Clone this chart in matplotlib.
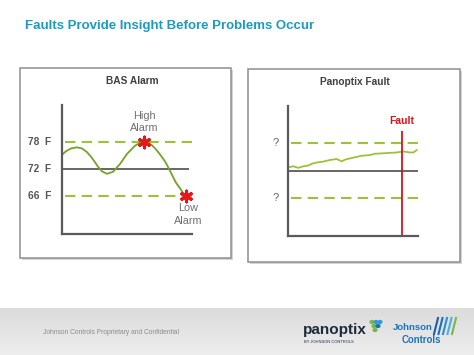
import numpy as np
import matplotlib.pyplot as plt
from matplotlib.patches import Rectangle

plt.rcParams['font.family'] = ['Liberation Sans', 'DejaVu Sans']

# Alarm levels (deg F)
levels = [78, 72, 66]
level_labels = ['78  F', '72  F', '66  F']

# BAS alarm trace (time, temp F)
bas_t = [0, 4, 9, 15, 20, 25, 29, 33, 36, 40, 45, 51, 58, 65, 73, 79, 82, 86, 90, 94, 98,
         102, 105, 108, 111, 114, 118, 121, 124]
bas_temp = [75.1, 75.9, 76.5, 76.75, 76.5, 75.7, 74.7, 73.5, 72.5, 71.5, 70.95, 71.4, 73.1,
            75.3, 77.1, 77.85, 78.0, 77.8, 77.2, 76.3, 75.2, 74.0, 72.9, 71.6, 70.3,
            69.0, 67.8, 66.8, 66.0]

# Panoptix trace
pan_t = [0.3, 5.3, 10.3, 15.3, 20, 25, 30, 35, 42, 48.7, 53.7, 57, 65, 73.7, 82, 87,
         98.7, 108.7, 115.3, 122, 125.3, 128.7]
pan_temp = [72.71, 72.92, 72.58, 72.92, 73.07, 73.56, 73.78, 73.93, 74.29, 74.51, 73.99,
            74.36, 74.79, 75.21, 75.36, 75.64, 75.79, 75.92, 76.14, 75.92, 75.92, 76.44]
fault_t = 114

W, H = 474, 355
fig = plt.figure(figsize=(W / 100, H / 100), dpi=100)
fig.patch.set_facecolor('white')


def fx(px):
    return px / W


def fy(py):
    return 1 - py / H


# title
fig.text(fx(25), fy(26), 'Faults Provide Insight Before Problems Occur', color='#1b9ac0',
         fontsize=9.5, fontweight='bold', va='center', ha='left')

# footer band with a soft gradient
bg = fig.add_axes([0, 0, 1, 1 - 308 / H], zorder=0)
grad = np.linspace(0.86, 0.93, 50).reshape(-1, 1)
bg.imshow(np.dstack([grad, grad, grad]), aspect='auto', extent=[0, 1, 0, 1])
bg.axis('off')
fig.text(fx(43), fy(332), 'Johnson Controls Proprietary and Confidential', color='#8a8a8a',
         fontsize=4.8, va='center')
fig.text(fx(303), fy(330), 'panoptix', color='#1e2b3c', fontsize=11, fontweight='bold',
         va='center')
fig.text(fx(304), fy(342), 'BY JOHNSON CONTROLS', color='#1e2b3c', fontsize=2.9, va='center')
for (dx, dy, c) in [(372, 322, '#7ab648'), (376, 322, '#2a9fd6'), (380, 322, '#2a9fd6'),
                    (374, 326, '#7ab648'), (378, 326, '#1b6fb5'), (375, 330, '#7ab648')]:
    fig.patches.append(plt.Circle((fx(dx), fy(dy)), 0.004, color=c,
                                  transform=fig.transFigure, figure=fig))
fig.text(fx(393), fy(327), 'Johnson', color='#1a72b8', fontsize=6.8, fontweight='bold',
         va='center')
fig.text(fx(402), fy(340), 'Controls', color='#1a72b8', fontsize=6.9, fontweight='bold',
         va='center')
for i, c in enumerate(['#1a5fa8', '#1a72b8', '#2a8fd0', '#4aaee0', '#7ab648']):
    fig.lines.append(plt.Line2D([fx(434 + i * 4.5), fx(438 + i * 4.5)], [fy(334), fy(318)],
                                color=c, lw=1.5, transform=fig.transFigure))

# panel boxes
for (x0, y0, x1, y1) in [(20, 68, 231, 258), (248, 69, 460, 262)]:
    fig.patches.append(Rectangle((fx(x0 + 2), fy(y1 + 2)), (x1 - x0) / W, (y1 - y0) / H,
                                 transform=fig.transFigure, facecolor='#d4d4d4',
                                 edgecolor='none', zorder=1))
    fig.patches.append(Rectangle((fx(x0), fy(y1)), (x1 - x0) / W, (y1 - y0) / H,
                                 transform=fig.transFigure, facecolor='white',
                                 edgecolor='#8e8e8e', lw=1.1, zorder=1))

fig.text(fx(132), fy(81), 'BAS Alarm', color='#404040', fontsize=7.3, fontweight='bold',
         ha='center', va='center')
fig.text(fx(355), fy(82), 'Panoptix Fault', color='#404040', fontsize=7.3, fontweight='bold',
         ha='center', va='center')

dash_c = '#9cc23a'
axis_c = '#5a5a5a'


def setup(ax):
    ax.set_xlim(0, 130)
    ax.set_ylim(57.8, 86)
    for s in ['top', 'right']:
        ax.spines[s].set_visible(False)
    for s in ['left', 'bottom']:
        ax.spines[s].set_color(axis_c)
        ax.spines[s].set_linewidth(1.6)
    ax.set_xticks([])
    ax.set_yticks([])
    ax.patch.set_alpha(0)


# BAS alarm panel
ax1 = fig.add_axes([fx(62), fy(234), 130 / W, 129 / H], zorder=2)
setup(ax1)
ax1.hlines([levels[0], levels[2]], 3, 130, colors=dash_c, lw=1.5, linestyles=(0, (5, 3)))
ax1.hlines(levels[1], 0, 127, colors=axis_c, lw=1.3)
ax1.plot(bas_t, bas_temp, color='#74a22a', lw=1.3)
ax1.scatter([bas_t[16], bas_t[-1]], [bas_temp[16], bas_temp[-1]], marker=(6, 2, 0),
            s=60, color='#e8151b', linewidths=2.2, zorder=5, clip_on=False)
for lv, lab in zip(levels, level_labels):
    ax1.text(-34, lv, lab, color='#555555', fontsize=7.3, fontweight='bold', va='center')
ax1.text(bas_t[16], 79.8, 'High\nAlarm', color='#707070', fontsize=7.8, ha='center',
         va='bottom', linespacing=1.35)
ax1.text(bas_t[-1] + 2, 64.6, 'Low\nAlarm', color='#707070', fontsize=7.8, ha='center',
         va='top', linespacing=1.35)

# Panoptix panel
ax2 = fig.add_axes([fx(288), fy(236), 130 / W, 130 / H], zorder=2)
setup(ax2)
ax2.hlines([levels[0], levels[2]], 3, 130, colors=dash_c, lw=1.5, linestyles=(0, (5, 3)))
ax2.hlines(levels[1], 0, 130, colors=axis_c, lw=1.3)
ax2.plot(pan_t, pan_temp, color='#9cc23a', lw=1.3)
ax2.vlines(fault_t, 57.8, 80.5, colors='#d9111b', lw=1.3)
ax2.text(fault_t, 82.8, 'Fault', color='#d9111b', fontsize=7.5, fontweight='bold',
         ha='center', va='center')
for lv in [levels[0], levels[2]]:
    ax2.text(-12, lv, '?', color='#606060', fontsize=8, ha='center', va='center')

fig.savefig('out.png', dpi=100)
